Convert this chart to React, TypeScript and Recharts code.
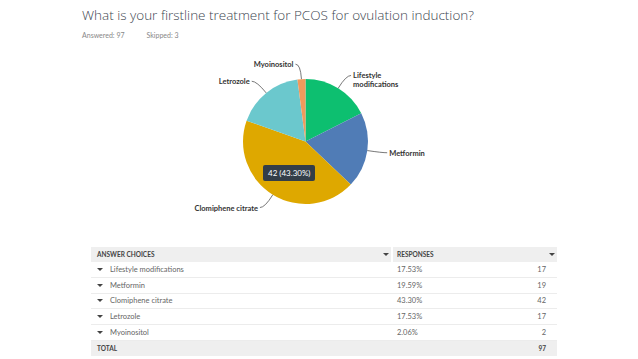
import React from "react";
import { PieChart, Pie, Cell, Tooltip } from "recharts";

const categories = ["Lifestyle modifications", "Metformin", "Clomiphene citrate", "Letrozole", "Myoinositol"];
const counts = [17, 19, 42, 17, 2];
const percents = ["17.53%", "19.59%", "43.30%", "17.53%", "2.06%"];
const colors = ["#0dbf70", "#507cb6", "#dea800", "#6bc8cd", "#f19a5c"];
const labelLines = [["Lifestyle", "modifications"], ["Metformin"], ["Clomiphene citrate"], ["Letrozole"], ["Myoinositol"]];
const total = 97;
const answered = 97;
const skipped = 3;

const data = categories.map((name, i) => ({ name, value: counts[i], pct: percents[i] }));

const RAD = Math.PI / 180;
const FONT = "Lato, 'Open Sans', sans-serif";

const renderLabel = (props: any) => {
  const { cx, cy, outerRadius, midAngle, index } = props;
  const sin = Math.sin(-midAngle * RAD);
  const cos = Math.cos(-midAngle * RAD);
  const sx = cx + outerRadius * cos;
  const sy = cy + outerRadius * sin;
  const ex = cx + (outerRadius + 15) * cos;
  const ey = cy + (outerRadius + 15) * sin;
  const right = cos >= 0;
  const fx = ex + (right ? 5 : -5);
  const fy = ey;
  const lines = labelLines[index];
  const tx = fx + (right ? 2 : -2);
  const ty = fy;
  return (
    <g>
      <path d={`M${sx},${sy} Q${ex},${ey} ${fx},${fy}`} stroke="#555" strokeWidth={0.8} fill="none" />
      <text x={tx} y={ty} textAnchor={right ? "start" : "end"} dominantBaseline="central" fontSize={7.5} fontWeight={700} fill="#333" fontFamily={FONT}>
        {lines.map((l, k) => (
          <tspan key={k} x={tx} dy={k === 0 ? 0 : 9}>{l}</tspan>
        ))}
      </text>
    </g>
  );
};

const TipContent = (props: any) => {
  const { payload } = props;
  if (!payload || !payload.length) return null;
  const p = payload[0].payload;
  return (
    <div style={{ background: "#333e48", color: "#fff", fontSize: 8, fontFamily: FONT, padding: "3px 5px", borderRadius: 2, whiteSpace: "nowrap", lineHeight: "10px" }}>
      {`${p.value} (${p.pct})`}
    </div>
  );
};

const cellStyle: React.CSSProperties = { position: "absolute", top: 0, height: "100%", display: "flex", alignItems: "center" };

const Arrow = ({ left }: { left: number }) => (
  <div style={{ position: "absolute", left, top: "50%", marginTop: -1.5, width: 0, height: 0, borderLeft: "3px solid transparent", borderRight: "3px solid transparent", borderTop: "3px solid #444" }} />
);

export default function App() {
  return (
    <div style={{ position: "absolute", left: 0, top: 0, width: 638, height: 359, background: "#fff", fontFamily: FONT, overflow: "hidden" }}>
      <div style={{ position: "absolute", left: 82, top: 6, fontSize: 13.5, color: "#3c4650", fontFamily: "'Open Sans', sans-serif", fontWeight: 300, whiteSpace: "nowrap" }}>
        What is your firstline treatment for PCOS for ovulation induction?
      </div>
      <div style={{ position: "absolute", left: 82, top: 31, fontSize: 7, color: "#888", whiteSpace: "nowrap" }}>
        <span>Answered: {answered}</span>
        <span style={{ marginLeft: 22 }}>Skipped: {skipped}</span>
      </div>
      <div style={{ position: "absolute", left: 0, top: 0 }}>
        <PieChart width={638} height={240} margin={{ top: 0, right: 0, bottom: 0, left: 0 }}>
          <Pie
            data={data}
            dataKey="value"
            nameKey="name"
            cx={305.5}
            cy={141.5}
            outerRadius={62.5}
            startAngle={90}
            endAngle={-270}
            stroke="none"
            label={renderLabel}
            labelLine={false}
            isAnimationActive={false}
          >
            {data.map((d, i) => (
              <Cell key={d.name} fill={colors[i]} />
            ))}
          </Pie>
          <Tooltip
            content={<TipContent />}
            defaultIndex={2}
            active={true}
            position={{ x: 263, y: 165 }}
            isAnimationActive={false}
            wrapperStyle={{ outline: "none" }}
          />
        </PieChart>
      </div>
      <div style={{ position: "absolute", left: 91, top: 247, width: 466 }}>
        <div style={{ position: "relative", height: 15, background: "#efefef", fontSize: 6.5, fontWeight: 700, color: "#444" }}>
          <div style={{ ...cellStyle, left: 6 }}>ANSWER CHOICES</div>
          <Arrow left={292} />
          <div style={{ position: "absolute", left: 300, top: 0, width: 1.5, height: "100%", background: "#fff" }} />
          <div style={{ ...cellStyle, left: 306 }}>RESPONSES</div>
          <Arrow left={458} />
        </div>
        {categories.map((c, i) => (
          <div key={c} style={{ position: "relative", height: 15.8, borderBottom: "1px solid #ececec", boxSizing: "border-box", fontSize: 7.5, color: "#666" }}>
            <Arrow left={6} />
            <div style={{ ...cellStyle, left: 19 }}>{c}</div>
            <div style={{ ...cellStyle, left: 306 }}>{percents[i]}</div>
            <div style={{ ...cellStyle, right: 11 }}>{counts[i]}</div>
          </div>
        ))}
        <div style={{ position: "relative", height: 15, background: "#efefef", fontSize: 6.5, fontWeight: 700, color: "#444" }}>
          <div style={{ ...cellStyle, left: 6 }}>TOTAL</div>
          <div style={{ ...cellStyle, right: 11 }}>{total}</div>
        </div>
      </div>
    </div>
  );
}
